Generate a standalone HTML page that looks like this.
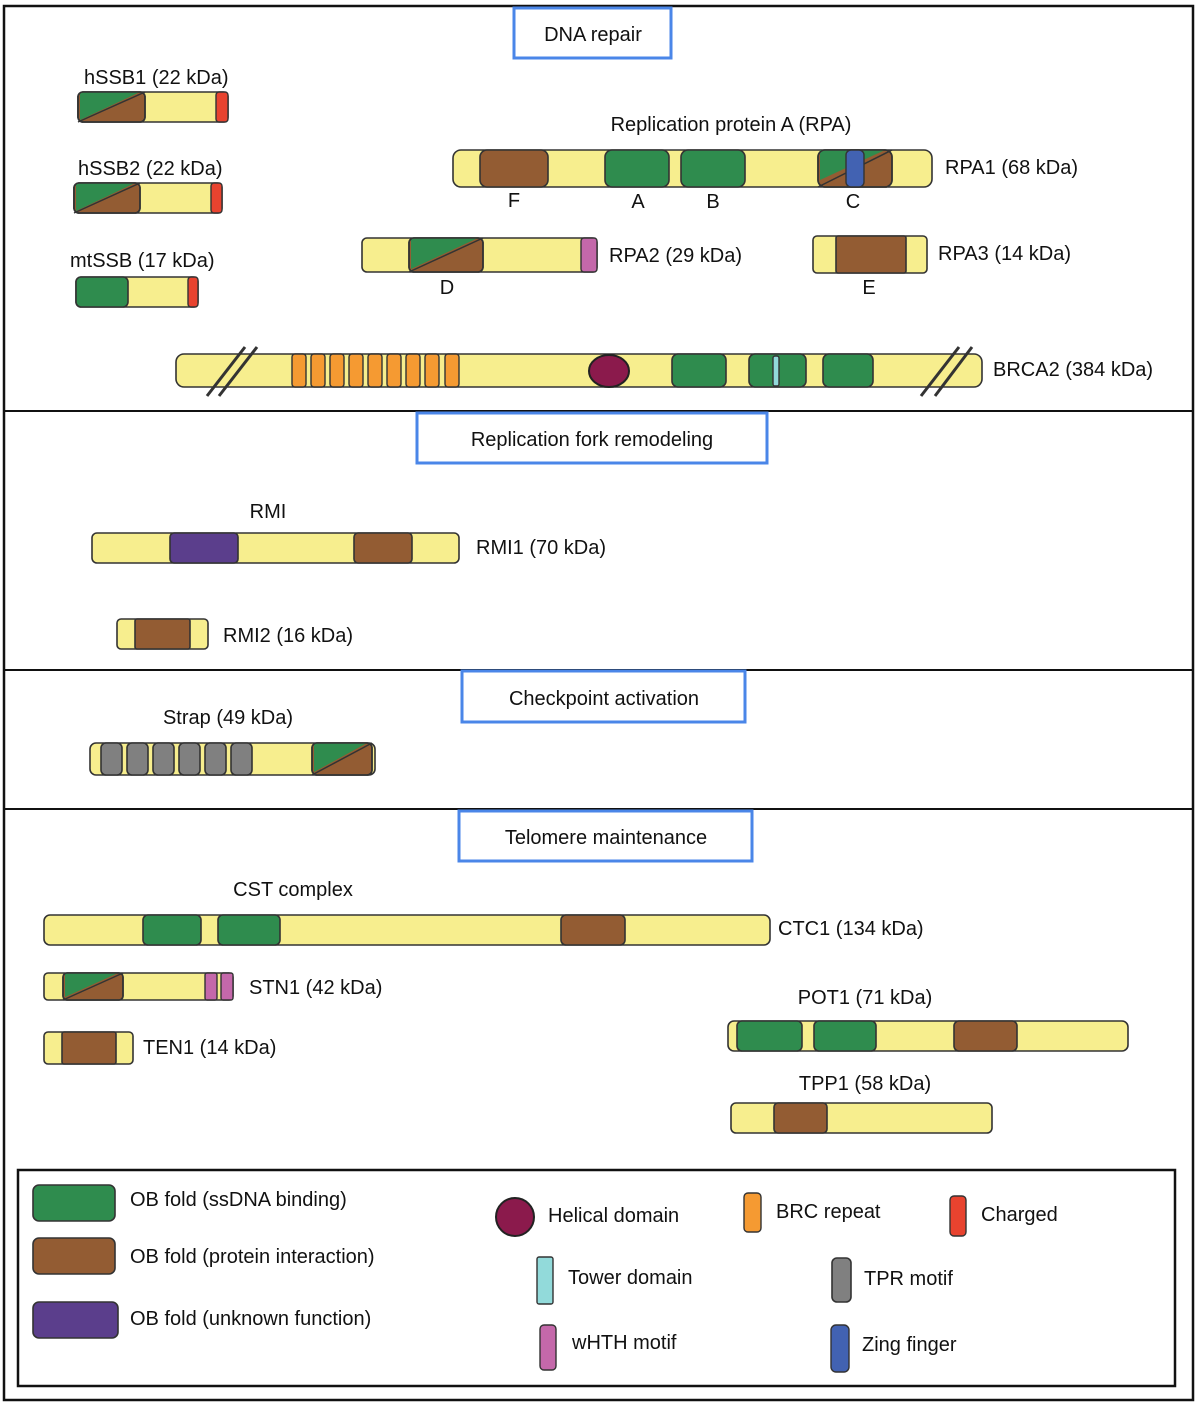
<!DOCTYPE html>
<html><head><meta charset="utf-8"><style>body{margin:0;background:#fff}svg{display:block}text{font-family:"Liberation Sans",sans-serif;font-size:20px;fill:#111;dominant-baseline:central}</style></head><body>
<svg width="1200" height="1406" viewBox="0 0 1200 1406" xmlns="http://www.w3.org/2000/svg">
<defs>
<style>.b{fill:#f7ee8e;stroke:#333;stroke-width:1.6}.g{fill:#2f8c4e;stroke:#333;stroke-width:1.6}.br{fill:#935c33;stroke:#333;stroke-width:1.6}.pu{fill:#5b3e8c;stroke:#333;stroke-width:1.6}.r{fill:#e8432f;stroke:#333;stroke-width:1.4}.o{fill:#f59a32;stroke:#333;stroke-width:1.4}.pk{fill:#c468aa;stroke:#333;stroke-width:1.4}.bl{fill:#4262b2;stroke:#333;stroke-width:1.4}.gr{fill:#808080;stroke:#333;stroke-width:1.6}.cy{fill:#92dada;stroke:#333;stroke-width:1.4}.t{fill:#fff;stroke:#4a86e8;stroke-width:3}</style>
</defs>
<rect x="4" y="6" width="1189" height="1394" fill="none" stroke="#111" stroke-width="2.5"/>
<line x1="4" y1="411" x2="1193" y2="411" stroke="#111" stroke-width="2"/>
<line x1="4" y1="670" x2="1193" y2="670" stroke="#111" stroke-width="2"/>
<line x1="4" y1="809" x2="1193" y2="809" stroke="#111" stroke-width="2"/>

<rect class="t" x="514" y="8" width="157" height="50"/><text x="593" y="35" text-anchor="middle">DNA repair</text>

<text x="84" y="78">hSSB1 (22 kDa)</text>
<rect class="b" x="78" y="92" width="150" height="30" rx="5"/>
<rect class="br" x="78" y="92" width="67" height="30" rx="5"/><polygon points="80,92 140,92 80,120" fill="#2f8c4e"/><line x1="78" y1="122" x2="145" y2="92" stroke="#333" stroke-width="1.5"/><rect x="78" y="92" width="67" height="30" rx="5" fill="none" stroke="#333" stroke-width="1.6"/>
<rect class="r" x="216" y="92" width="12" height="30" rx="3"/>

<text x="78" y="169">hSSB2 (22 kDa)</text>
<rect class="b" x="74" y="183" width="148" height="30" rx="5"/>
<rect class="br" x="74" y="183" width="66" height="30" rx="5"/><polygon points="76,183 135,183 76,211" fill="#2f8c4e"/><line x1="74" y1="213" x2="140" y2="183" stroke="#333" stroke-width="1.5"/><rect x="74" y="183" width="66" height="30" rx="5" fill="none" stroke="#333" stroke-width="1.6"/>
<rect class="r" x="211" y="183" width="11" height="30" rx="3"/>

<text x="70" y="261">mtSSB (17 kDa)</text>
<rect class="b" x="76" y="277" width="122" height="30" rx="5"/>
<rect class="g" x="76" y="277" width="52" height="30" rx="5"/>
<rect class="r" x="188" y="277" width="10" height="30" rx="3"/>

<text x="731" y="125" text-anchor="middle">Replication protein A (RPA)</text>
<rect class="b" x="453" y="150" width="479" height="37" rx="8"/>
<rect class="br" x="480" y="150" width="68" height="37" rx="7"/>
<rect class="g" x="605" y="150" width="64" height="37" rx="7"/>
<rect class="g" x="681" y="150" width="64" height="37" rx="7"/>
<rect class="br" x="818" y="150" width="74" height="37" rx="7"/><polygon points="820,150 885,150 820,180" fill="#2f8c4e"/><line x1="818" y1="187" x2="892" y2="150" stroke="#333" stroke-width="1.5"/><rect x="818" y="150" width="74" height="37" rx="7" fill="none" stroke="#333" stroke-width="1.6"/>
<rect class="bl" x="846" y="150" width="18" height="37" rx="5"/>
<text x="514" y="201" text-anchor="middle">F</text><text x="638" y="202" text-anchor="middle">A</text><text x="713" y="202" text-anchor="middle">B</text><text x="853" y="202" text-anchor="middle">C</text>
<text x="945" y="168">RPA1 (68 kDa)</text>

<rect class="b" x="362" y="238" width="235" height="34" rx="5"/>
<rect class="br" x="409" y="238" width="74" height="34" rx="5"/><polygon points="411,238 478,238 411,269" fill="#2f8c4e"/><line x1="409" y1="272" x2="483" y2="238" stroke="#333" stroke-width="1.5"/><rect x="409" y="238" width="74" height="34" rx="5" fill="none" stroke="#333" stroke-width="1.6"/>
<rect class="pk" x="581" y="238" width="16" height="34" rx="3"/>
<text x="447" y="288" text-anchor="middle">D</text>
<text x="609" y="256">RPA2 (29 kDa)</text>

<rect class="b" x="813" y="236" width="114" height="37" rx="4"/>
<rect class="br" x="836" y="236" width="70" height="37" rx="2"/>
<text x="869" y="288" text-anchor="middle">E</text>
<text x="938" y="254">RPA3 (14 kDa)</text>

<rect class="b" x="176" y="354" width="806" height="33" rx="8"/>
<g>
<rect class="o" x="292" y="354" width="14" height="33" rx="3"/><rect class="o" x="311" y="354" width="14" height="33" rx="3"/><rect class="o" x="330" y="354" width="14" height="33" rx="3"/><rect class="o" x="349" y="354" width="14" height="33" rx="3"/><rect class="o" x="368" y="354" width="14" height="33" rx="3"/><rect class="o" x="387" y="354" width="14" height="33" rx="3"/><rect class="o" x="406" y="354" width="14" height="33" rx="3"/><rect class="o" x="425" y="354" width="14" height="33" rx="3"/><rect class="o" x="445" y="354" width="14" height="33" rx="3"/>
</g>
<ellipse cx="609" cy="371" rx="20" ry="16" fill="#8b1a4c" stroke="#222" stroke-width="2"/>
<rect class="g" x="672" y="354" width="54" height="33" rx="6"/>
<rect class="g" x="749" y="354" width="57" height="33" rx="6"/>
<rect class="cy" x="773" y="356" width="6" height="30" rx="2"/>
<rect class="g" x="823" y="354" width="50" height="33" rx="6"/>
<line x1="207" y1="396" x2="245" y2="347" stroke="#333" stroke-width="3"/><line x1="219" y1="396" x2="257" y2="347" stroke="#333" stroke-width="3"/>
<line x1="921" y1="396" x2="959" y2="347" stroke="#333" stroke-width="3"/><line x1="935" y1="396" x2="972" y2="347" stroke="#333" stroke-width="3"/>
<text x="993" y="370">BRCA2 (384 kDa)</text>

<rect class="t" x="417" y="413" width="350" height="50"/><text x="592" y="440" text-anchor="middle">Replication fork remodeling</text>
<text x="268" y="512" text-anchor="middle">RMI</text>
<rect class="b" x="92" y="533" width="367" height="30" rx="5"/>
<rect class="pu" x="170" y="533" width="68" height="30" rx="4"/>
<rect class="br" x="354" y="533" width="58" height="30" rx="4"/>
<text x="476" y="548">RMI1 (70 kDa)</text>
<rect class="b" x="117" y="619" width="91" height="30" rx="4"/>
<rect class="br" x="135" y="619" width="55" height="30" rx="2"/>
<text x="223" y="636">RMI2 (16 kDa)</text>

<rect class="t" x="462" y="671" width="283" height="51"/><text x="604" y="699" text-anchor="middle">Checkpoint activation</text>
<text x="228" y="718" text-anchor="middle">Strap (49 kDa)</text>
<rect class="b" x="90" y="743" width="285" height="32" rx="6"/>
<rect class="gr" x="101" y="743" width="21" height="32" rx="5"/><rect class="gr" x="127" y="743" width="21" height="32" rx="5"/><rect class="gr" x="153" y="743" width="21" height="32" rx="5"/><rect class="gr" x="179" y="743" width="21" height="32" rx="5"/><rect class="gr" x="205" y="743" width="21" height="32" rx="5"/><rect class="gr" x="231" y="743" width="21" height="32" rx="5"/>
<rect class="br" x="312" y="743" width="60" height="32" rx="5"/><polygon points="314,743 367,743 314,772" fill="#2f8c4e"/><line x1="312" y1="775" x2="372" y2="743" stroke="#333" stroke-width="1.5"/><rect x="312" y="743" width="60" height="32" rx="5" fill="none" stroke="#333" stroke-width="1.6"/>

<rect class="t" x="459" y="811" width="293" height="50"/><text x="606" y="838" text-anchor="middle">Telomere maintenance</text>
<text x="293" y="890" text-anchor="middle">CST complex</text>
<rect class="b" x="44" y="915" width="726" height="30" rx="6"/>
<rect class="g" x="143" y="915" width="58" height="30" rx="5"/>
<rect class="g" x="218" y="915" width="62" height="30" rx="5"/>
<rect class="br" x="561" y="915" width="64" height="30" rx="5"/>
<text x="778" y="929">CTC1 (134 kDa)</text>

<rect class="b" x="44" y="973" width="189" height="27" rx="4"/>
<rect class="br" x="63" y="973" width="60" height="27" rx="4"/><polygon points="65,973 118,973 65,997" fill="#2f8c4e"/><line x1="63" y1="1000" x2="123" y2="973" stroke="#333" stroke-width="1.5"/><rect x="63" y="973" width="60" height="27" rx="4" fill="none" stroke="#333" stroke-width="1.6"/>
<rect class="pk" x="205" y="973" width="12" height="27" rx="2"/><rect class="pk" x="221" y="973" width="12" height="27" rx="2"/>
<text x="249" y="988">STN1 (42 kDa)</text>

<rect class="b" x="44" y="1032" width="89" height="32" rx="4"/>
<rect class="br" x="62" y="1032" width="54" height="32" rx="2"/>
<text x="143" y="1048">TEN1 (14 kDa)</text>

<text x="865" y="998" text-anchor="middle">POT1 (71 kDa)</text>
<rect class="b" x="728" y="1021" width="400" height="30" rx="6"/>
<rect class="g" x="737" y="1021" width="65" height="30" rx="5"/>
<rect class="g" x="814" y="1021" width="62" height="30" rx="5"/>
<rect class="br" x="954" y="1021" width="63" height="30" rx="5"/>

<text x="865" y="1084" text-anchor="middle">TPP1 (58 kDa)</text>
<rect class="b" x="731" y="1103" width="261" height="30" rx="5"/>
<rect class="br" x="774" y="1103" width="53" height="30" rx="4"/>

<rect x="18" y="1170" width="1157" height="216" fill="none" stroke="#111" stroke-width="2.5"/>
<rect class="g" x="33" y="1185" width="82" height="36" rx="6"/><text x="130" y="1200">OB fold (ssDNA binding)</text>
<rect class="br" x="33" y="1238" width="82" height="36" rx="6"/><text x="130" y="1257">OB fold (protein interaction)</text>
<rect class="pu" x="33" y="1302" width="85" height="36" rx="6"/><text x="130" y="1319">OB fold (unknown function)</text>
<circle cx="515" cy="1217" r="19" fill="#8b1a4c" stroke="#222" stroke-width="2"/><text x="548" y="1216">Helical domain</text>
<rect class="o" x="744" y="1193" width="17" height="39" rx="4"/><text x="776" y="1212">BRC repeat</text>
<rect class="r" x="950" y="1196" width="16" height="40" rx="4"/><text x="981" y="1215">Charged</text>
<rect class="cy" x="537" y="1257" width="16" height="47" rx="2" stroke-width="2.5"/><text x="568" y="1278">Tower domain</text>
<rect class="gr" x="832" y="1258" width="19" height="44" rx="5"/><text x="864" y="1279">TPR motif</text>
<rect class="pk" x="540" y="1325" width="16" height="45" rx="4"/><text x="572" y="1343">wHTH motif</text>
<rect class="bl" x="831" y="1325" width="18" height="47" rx="5"/><text x="862" y="1345">Zing finger</text>
</svg>
</body></html>
